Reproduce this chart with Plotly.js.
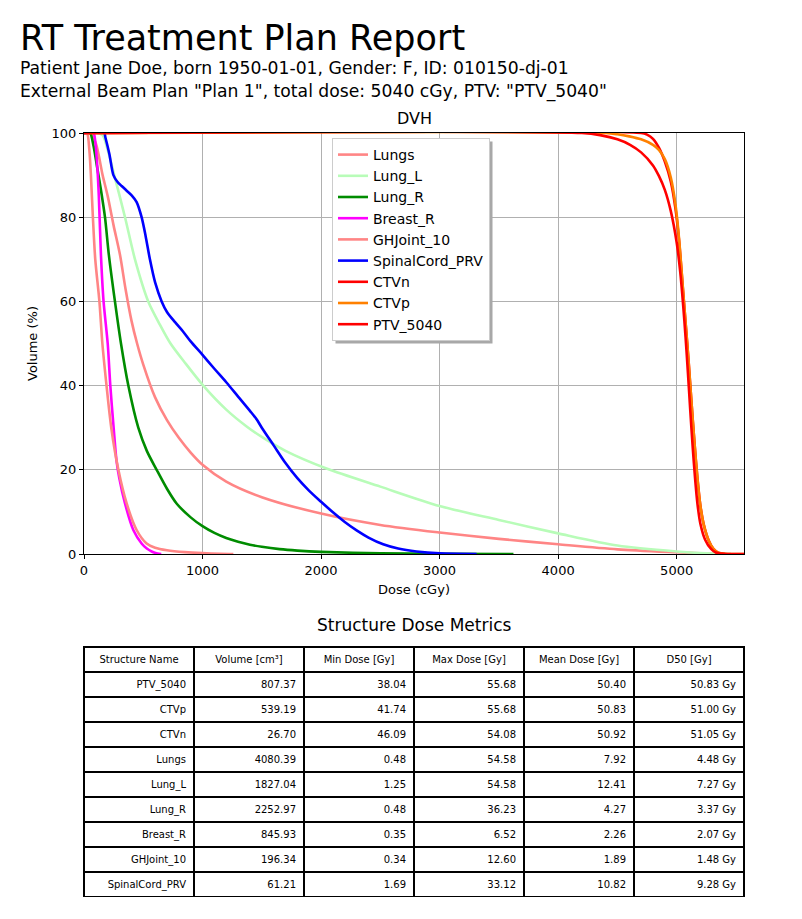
<!DOCTYPE html>
<html>
<head>
<meta charset="utf-8">
<script src="https://cdn.plot.ly/plotly-3.0.1.min.js"></script>
<style>
  html, body { margin: 0; padding: 0; background: #fff; }
  #chart { width: 802px; height: 919px; }
</style>
</head>
<body>
<div id="chart"></div>
<script>
// ---------- DVH data (dose in cGy, volume in %) ----------
const lungsDose = [0, 50, 100, 157, 200, 250, 304, 350, 400, 448, 500, 600, 700, 800, 900, 1000, 1200, 1500, 2000, 2500, 3000, 3500, 4000, 4500, 5000, 5300, 5458];
const lungsVol  = [100, 100, 97.5, 90, 85, 78, 71, 63, 55.5, 50, 45, 37.2, 31.8, 27.6, 24.1, 21.2, 17.2, 13.5, 9.6, 6.9, 5.1, 3.6, 2.3, 1.1, 0.4, 0.05, 0];

const lungLDose = [0, 100, 156, 200, 255, 346, 430, 542, 640, 730, 850, 1006, 1200, 1372, 1500, 1700, 2046, 2500, 3000, 3500, 4000, 4500, 5000, 5300, 5458];
const lungLVol  = [100, 100, 99.5, 96, 90, 80, 70, 60, 54.5, 50, 45.5, 40, 34.3, 30.3, 27.8, 24.5, 20.3, 16, 11.4, 8.1, 4.9, 2.0, 0.6, 0.1, 0];

const lungRDose = [0, 50, 80, 110, 140, 177, 210, 261, 312, 374, 458, 530, 613, 700, 781, 900, 1000, 1100, 1200, 1300, 1400, 1500, 1650, 1800, 2000, 2500, 3000, 3623];
const lungRVol  = [100, 100, 97, 92, 87, 80, 71, 60, 50, 40, 30, 24.5, 20, 15.5, 12, 8.7, 6.6, 5.0, 3.8, 2.9, 2.2, 1.7, 1.15, 0.8, 0.5, 0.15, 0.05, 0];

const breastDose = [0, 80, 95, 110, 125, 143, 165, 200, 222, 250, 275, 298, 346, 416, 486, 530, 571, 620, 652];
const breastVol  = [100, 100, 98, 93, 85, 71, 60, 50, 40, 30, 22, 18, 12, 5.7, 2.5, 1.3, 0.6, 0.1, 0];

const ghDose = [0, 25, 45, 60, 75, 95, 130, 155, 190, 230, 290, 360, 444, 528, 600, 700, 850, 1000, 1150, 1260];
const ghVol  = [100, 100, 96, 89, 80, 70, 60, 50, 40, 30, 20, 12, 5.7, 2.5, 1.5, 0.9, 0.45, 0.2, 0.05, 0];

const cordDose = [0, 170, 180, 214, 248, 280, 318, 360, 402, 444, 486, 520, 556, 600, 655, 700, 770, 837, 900, 1000, 1100, 1200, 1300, 1400, 1456, 1500, 1600, 1700, 1800, 1900, 2000, 2100, 2200, 2300, 2400, 2524, 2650, 2805, 3000, 3312];
const cordVol  = [100, 100, 99, 95, 90, 88.5, 87.4, 86.3, 85.2, 83.6, 80, 75.5, 70, 64.5, 60, 57.5, 55, 52.8, 50.5, 47.3, 44, 40.8, 37.4, 34, 32, 30, 25.8, 21.6, 18, 15, 12.4, 9.9, 7.6, 5.6, 3.9, 2.3, 1.3, 0.6, 0.15, 0];

const ctvnDose = [0, 4700, 4750, 4800, 4850, 4900, 4950, 4990, 5020, 5050, 5075, 5100, 5125, 5150, 5175, 5200, 5230, 5270, 5310, 5350, 5408];
const ctvnVol  = [100, 100, 99.6, 98.6, 96.5, 93.2, 88.5, 82, 74.5, 64, 55, 46, 36, 26.5, 18, 11.5, 6.8, 3.2, 1.2, 0.3, 0];

const ctvpDose = [0, 4400, 4500, 4600, 4700, 4800, 4850, 4900, 4950, 4990, 5020, 5050, 5075, 5100, 5125, 5150, 5175, 5200, 5230, 5270, 5310, 5350, 5400, 5568];
const ctvpVol  = [100, 100, 99.7, 99.2, 98.5, 97.2, 96, 93.8, 89.5, 83, 75, 64, 55, 46, 36, 26.5, 18, 11.5, 6.8, 3.2, 1.2, 0.3, 0.05, 0];

const ptvDose = [0, 4200, 4354, 4500, 4607, 4700, 4800, 4850, 4900, 4950, 5000, 5030, 5055, 5075, 5095, 5115, 5135, 5155, 5175, 5200, 5240, 5290, 5330, 5393, 5568];
const ptvVol  = [100, 100, 99.5, 98.5, 97.2, 95.4, 92.3, 89.8, 86.5, 81.5, 74, 67, 59, 51.5, 43, 34, 25.5, 18, 12, 7.2, 3.4, 1.2, 0.35, 0.05, 0];

// ---------- Table data ----------
const tableHeader = ['Structure Name', 'Volume [cm³]', 'Min Dose [Gy]', 'Max Dose [Gy]', 'Mean Dose [Gy]', 'D50 [Gy]'];
const structNames = ['PTV_5040', 'CTVp', 'CTVn', 'Lungs', 'Lung_L', 'Lung_R', 'Breast_R', 'GHJoint_10', 'SpinalCord_PRV'];
const structVolumes = [807.37, 539.19, 26.70, 4080.39, 1827.04, 2252.97, 845.93, 196.34, 61.21];
const minDoses = [38.04, 41.74, 46.09, 0.48, 1.25, 0.48, 0.35, 0.34, 1.69];
const maxDoses = [55.68, 55.68, 54.08, 54.58, 54.58, 36.23, 6.52, 12.60, 33.12];
const meanDoses = [50.40, 50.83, 50.92, 7.92, 12.41, 4.27, 2.26, 1.89, 10.82];
const d50Doses = [50.83, 51.00, 51.05, 4.48, 7.27, 3.37, 2.07, 1.48, 9.28];

// ---------- Geometry helpers (pixel -> paper) ----------
const W = 802, H = 919;
const ML = 84, MR = 58, MT = 133, MB = 22;
const PW = W - ML - MR, PH = H - MT - MB;
const px = x => (x - ML) / PW;
const py = y => (H - MB - y) / PH;

const FONT = 'DejaVu Sans';

function dvh(name, x, y, color) {
  return {
    type: 'scatter', mode: 'lines', name: name, x: x, y: y,
    line: { color: color, width: 2.6, shape: 'spline', smoothing: 0.8 },
    hoverinfo: 'skip'
  };
}

const traces = [
  dvh('Lungs', lungsDose, lungsVol, '#ff8585'),
  dvh('Lung_L', lungLDose, lungLVol, '#b8fcb8'),
  dvh('Lung_R', lungRDose, lungRVol, '#008c00'),
  dvh('Breast_R', breastDose, breastVol, '#ff00ff'),
  dvh('GHJoint_10', ghDose, ghVol, '#ff8585'),
  dvh('SpinalCord_PRV', cordDose, cordVol, '#0000ff'),
  dvh('CTVn', ctvnDose, ctvnVol, '#ff0000'),
  dvh('CTVp', ctvpDose, ctvpVol, '#ff8000'),
  dvh('PTV_5040', ptvDose, ptvVol, '#ff0000'),
  {
    type: 'table',
    domain: { x: [0, 1], y: [0, py(647)] },
    columnwidth: [1, 1, 1, 1, 1, 1],
    header: {
      values: tableHeader,
      align: 'center', height: 25,
      line: { color: '#000', width: 1.2 },
      fill: { color: '#fff' },
      font: { family: FONT, size: 10, color: '#000' }
    },
    cells: {
      values: [
        structNames,
        structVolumes.map(v => v.toFixed(2)),
        minDoses.map(v => v.toFixed(2)),
        maxDoses.map(v => v.toFixed(2)),
        meanDoses.map(v => v.toFixed(2)),
        d50Doses.map(v => v.toFixed(2) + ' Gy')
      ],
      align: 'right', height: 25,
      line: { color: '#000', width: 1.2 },
      fill: { color: '#fff' },
      font: { family: FONT, size: 10, color: '#000' }
    }
  }
];

const layout = {
  width: W, height: H,
  margin: { l: ML, r: MR, t: MT, b: MB, pad: 0 },
  paper_bgcolor: '#fff', plot_bgcolor: '#fff',
  font: { family: FONT, size: 13, color: '#000' },
  showlegend: true,
  legend: {
    x: px(332), y: py(138), xanchor: 'left', yanchor: 'top',
    bgcolor: '#fff', bordercolor: '#cccccc', borderwidth: 1,
    font: { family: FONT, size: 14, color: '#000' },
    traceorder: 'normal', itemwidth: 30
  },
  xaxis: {
    domain: [0, 1], anchor: 'y',
    range: [0, 5568], tick0: 0, dtick: 1000,
    showgrid: true, gridcolor: '#b0b0b0', gridwidth: 1,
    zeroline: false, showline: true, mirror: true, linecolor: '#000', linewidth: 1,
    ticks: 'outside', ticklen: 4, tickcolor: '#000',
    tickfont: { family: FONT, size: 13, color: '#000' },
    title: { text: 'Dose (cGy)', font: { family: FONT, size: 13, color: '#000' }, standoff: 8 }
  },
  yaxis: {
    domain: [py(554), 1], anchor: 'x',
    range: [0, 100], tick0: 0, dtick: 20,
    showgrid: true, gridcolor: '#b0b0b0', gridwidth: 1,
    zeroline: false, showline: true, mirror: true, linecolor: '#000', linewidth: 1,
    ticks: 'outside', ticklen: 4, tickcolor: '#000',
    tickfont: { family: FONT, size: 13, color: '#000' },
    title: { text: 'Volume (%)', font: { family: FONT, size: 13, color: '#000' }, standoff: 11 }
  },
  annotations: [
    { text: 'RT Treatment Plan Report', xref: 'paper', yref: 'paper', x: px(18), y: py(37.5), xanchor: 'left', yanchor: 'middle', showarrow: false, font: { family: FONT, size: 35, color: '#000' } },
    { text: 'Patient Jane Doe, born 1950-01-01, Gender: F, ID: 010150-dj-01', xref: 'paper', yref: 'paper', x: px(18), y: py(68), xanchor: 'left', yanchor: 'middle', showarrow: false, font: { family: FONT, size: 17.2, color: '#000' } },
    { text: 'External Beam Plan "Plan 1", total dose: 5040 cGy, PTV: "PTV_5040"', xref: 'paper', yref: 'paper', x: px(18), y: py(91.5), xanchor: 'left', yanchor: 'middle', showarrow: false, font: { family: FONT, size: 17.2, color: '#000' } },
    { text: 'DVH', xref: 'paper', yref: 'paper', x: 0.5, y: py(118), xanchor: 'center', yanchor: 'middle', showarrow: false, font: { family: FONT, size: 16, color: '#000' } },
    { text: 'Structure Dose Metrics', xref: 'paper', yref: 'paper', x: 0.5, y: py(625), xanchor: 'center', yanchor: 'middle', showarrow: false, font: { family: FONT, size: 17, color: '#000' } }
  ]
};

Plotly.newPlot('chart', traces, layout, { staticPlot: true, displayModeBar: false }).then(gd => {
  // drop shadow behind the legend box, sized from the drawn legend
  const bg = gd.querySelector('.legend .bg');
  if (!bg) return;
  const r = bg.getBoundingClientRect();
  const c = gd.getBoundingClientRect();
  const left = r.left - c.left, top = r.top - c.top;
  const right = left + r.width, bottom = top + r.height;
  const off = 3;
  return Plotly.relayout(gd, {
    shapes: [{
      type: 'rect', xref: 'paper', yref: 'paper', layer: 'above',
      x0: px(left + off), x1: px(right + off), y0: py(bottom + off), y1: py(top + off),
      fillcolor: '#a8a8a8', line: { width: 0 }
    }]
  });
});
</script>
</body>
</html>
